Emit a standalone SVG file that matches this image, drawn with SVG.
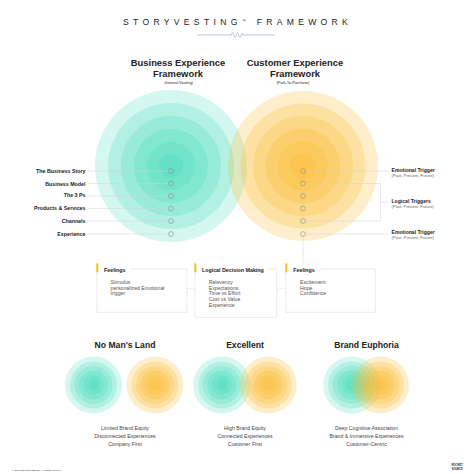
<svg xmlns="http://www.w3.org/2000/svg" width="474" height="474" viewBox="0 0 474 474">
<style>
text{font-family:"Liberation Sans",Arial,sans-serif;fill:#222}
.b{font-weight:bold}
.t{fill:#36d9b2;fill-opacity:.21}
.o{fill:#fbb626;fill-opacity:.24}
.dot{fill:none;stroke:#8a8a8a;stroke-width:.6}
.ln{fill:none;stroke:#d2d2d2;stroke-width:.5}
.box{fill:none;stroke:#dcdcdc;stroke-width:.6}
.bar{fill:#f2c417}
.lbl{font-size:5.3px;font-weight:bold;text-anchor:end}
.rl{font-size:5.1px;font-weight:bold}
.sub{font-size:4.2px;fill:#666}
.bt{font-size:5.3px;font-weight:bold}
.bi{font-size:5.2px;fill:#555}
.h2{font-size:8.6px;font-weight:bold;text-anchor:middle}
.bl{font-size:5.2px;fill:#444;text-anchor:middle}
</style>
<rect width="474" height="474" fill="#fff"/>
<g id="title">
<text x="123" y="25" font-size="8.6" letter-spacing="4.3" fill="#333">STORYVESTING<tspan font-size="4" dy="-3.5">™</tspan><tspan dy="3.5"> FRAMEWORK</tspan></text>
<path d="M197 35H231.5q1.2-5 2.4 0t2.4 0q1.2-5 2.4 0t2.4 0q1 -3 2 0H275" fill="none" stroke="#aab7ca" stroke-width=".8"/>
</g>
<g id="header-business">
<text x="178" y="66" font-size="9.4" class="b" text-anchor="middle">Business Experience</text>
<text x="178" y="76.5" font-size="9.4" class="b" text-anchor="middle">Framework</text>
<text x="178.5" y="83.5" font-size="3.8" fill="#666" text-anchor="middle">(Internal Vesting)</text>
</g>
<g id="header-customer">
<text x="295" y="66" font-size="9.4" class="b" text-anchor="middle">Customer Experience</text>
<text x="295" y="76.5" font-size="9.4" class="b" text-anchor="middle">Framework</text>
<text x="293" y="83.5" font-size="3.8" fill="#666" text-anchor="middle">(Path-To-Purchase)</text>
</g>
<g id="circle-business">
<circle class="t" cx="171" cy="166" r="76"/><circle class="t" cx="171" cy="166" r="63"/><circle class="t" cx="171" cy="166" r="50"/><circle class="t" cx="171" cy="166" r="37"/><circle class="t" cx="171" cy="166" r="24"/><circle class="t" cx="171" cy="166" r="12"/>
</g>
<g id="circle-customer">
<circle class="o" cx="303" cy="166" r="75"/><circle class="o" cx="303" cy="166" r="62.5"/><circle class="o" cx="303" cy="166" r="50"/><circle class="o" cx="303" cy="166" r="37.5"/><circle class="o" cx="303" cy="166" r="25"/><circle class="o" cx="303" cy="166" r="12.5"/>
</g>
<g id="connectors">
<path class="ln" d="M88 171H168.5M88 183.5H168.5M88 196H168.5M88 208.5H168.5M88 221H168.5M88 234H168.5"/>
<path class="ln" d="M88 169.8v2.4M88 182.3v2.4M88 194.8v2.4M88 207.3v2.4M88 219.8v2.4M88 232.8v2.4"/>
<path class="ln" d="M305.5 171H387M305.5 183.5H380.5V221H305.5M380.5 202H387M305.5 234H387"/>
<path class="ln" d="M387 169.8v2.4M387 200.8v2.4M387 232.8v2.4"/>
<path class="ln" d="M303 236.5V263"/>
<path class="ln" stroke-dasharray="1.5 1.5" d="M187 288.5H195M277 288.5H286"/>
</g>
<g id="points-business">
<circle class="dot" cx="171" cy="171" r="2.4"/><circle class="dot" cx="171" cy="183.5" r="2.4"/><circle class="dot" cx="171" cy="196" r="2.4"/><circle class="dot" cx="171" cy="208.5" r="2.4"/><circle class="dot" cx="171" cy="221" r="2.4"/><circle class="dot" cx="171" cy="234" r="2.4"/>
</g>
<g id="points-customer">
<circle class="dot" cx="303" cy="171" r="2.4"/><circle class="dot" cx="303" cy="183.5" r="2.4"/><circle class="dot" cx="303" cy="196" r="2.4"/><circle class="dot" cx="303" cy="208.5" r="2.4"/><circle class="dot" cx="303" cy="221" r="2.4"/><circle class="dot" cx="303" cy="234" r="2.4"/>
</g>
<g id="labels-business">
<text class="lbl" x="85.5" y="172.8">The Business Story</text>
<text class="lbl" x="85.5" y="185.8">Business Model</text>
<text class="lbl" x="85.5" y="197.3">The 3 Ps</text>
<text class="lbl" x="85.5" y="209.8">Products &amp; Services</text>
<text class="lbl" x="85.5" y="223">Channels</text>
<text class="lbl" x="85.5" y="236">Experience</text>
</g>
<g id="labels-customer">
<text class="rl" x="391.5" y="171.8">Emotional Trigger</text>
<text class="sub" x="391.5" y="177.3">(Past, Present, Future)</text>
<text class="rl" x="391.5" y="202.8">Logical Triggers</text>
<text class="sub" x="391.5" y="208.3">(Past, Present, Future)</text>
<text class="rl" x="391.5" y="233.5">Emotional Trigger</text>
<text class="sub" x="391.5" y="239.3">(Past, Present, Future)</text>
</g>
<g id="box-feelings-1">
<path class="box" d="M130 269H187V312.3H97V272"/>
<rect class="bar" x="96.3" y="263.3" width="2" height="9"/>
<text class="bt" x="104" y="271.8">Feelings</text>
<text class="bi" x="110.5" y="283.8">Stimulus</text>
<text class="bi" x="110.5" y="289.5">personalized Emotional</text>
<text class="bi" x="110.5" y="295.2">trigger</text>
</g>
<g id="box-logical">
<path class="box" d="M268.3 269H276.7V317.3H195V272"/>
<rect class="bar" x="194.3" y="263.3" width="2" height="9"/>
<text class="bt" x="202" y="271.8">Logical Decision Making</text>
<text class="bi" x="208.7" y="283.8">Relevency</text>
<text class="bi" x="208.7" y="289.5">Expectations</text>
<text class="bi" x="208.7" y="295.2">Time vs Effort</text>
<text class="bi" x="208.7" y="300.9">Cost vs Value</text>
<text class="bi" x="208.7" y="306.6">Experience</text>
</g>
<g id="box-feelings-2">
<path class="box" d="M320 269H375.3V312.3H286V272"/>
<rect class="bar" x="285.3" y="263.3" width="2" height="9"/>
<text class="bt" x="293.3" y="271.8">Feelings</text>
<text class="bi" x="300" y="283.8">Excitement</text>
<text class="bi" x="300" y="289.5">Hope</text>
<text class="bi" x="300" y="295.2">Confidence</text>
</g>
<g id="no-mans-land">
<text class="h2" x="125" y="347.5">No Man's Land</text>
<circle class="t" cx="93.5" cy="385" r="28.5"/><circle class="t" cx="93.5" cy="385" r="23.5"/><circle class="t" cx="93.5" cy="385" r="19"/><circle class="t" cx="93.5" cy="385" r="14.5"/><circle class="t" cx="93.5" cy="385" r="10"/><circle class="t" cx="93.5" cy="385" r="5.5"/>
<circle class="o" cx="155" cy="385" r="28.5"/><circle class="o" cx="155" cy="385" r="23.5"/><circle class="o" cx="155" cy="385" r="19"/><circle class="o" cx="155" cy="385" r="14.5"/><circle class="o" cx="155" cy="385" r="10"/><circle class="o" cx="155" cy="385" r="5.5"/>
<text class="bl" x="125" y="430">Limited Brand Equity</text>
<text class="bl" x="125" y="437.8">Disconnected Experiences</text>
<text class="bl" x="125" y="445.6">Company First</text>
</g>
<g id="excellent">
<text class="h2" x="245" y="347.5">Excellent</text>
<circle class="t" cx="221.7" cy="385" r="28.5"/><circle class="t" cx="221.7" cy="385" r="23.5"/><circle class="t" cx="221.7" cy="385" r="19"/><circle class="t" cx="221.7" cy="385" r="14.5"/><circle class="t" cx="221.7" cy="385" r="10"/><circle class="t" cx="221.7" cy="385" r="5.5"/>
<circle class="o" cx="268.3" cy="385" r="28.5"/><circle class="o" cx="268.3" cy="385" r="23.5"/><circle class="o" cx="268.3" cy="385" r="19"/><circle class="o" cx="268.3" cy="385" r="14.5"/><circle class="o" cx="268.3" cy="385" r="10"/><circle class="o" cx="268.3" cy="385" r="5.5"/>
<text class="bl" x="245" y="430">High Brand Equity</text>
<text class="bl" x="245" y="437.8">Connected Experiences</text>
<text class="bl" x="245" y="445.6">Customer First</text>
</g>
<g id="brand-euphoria">
<text class="h2" x="366.5" y="347.5">Brand Euphoria</text>
<circle class="t" cx="351.7" cy="385" r="28.5"/><circle class="t" cx="351.7" cy="385" r="23.5"/><circle class="t" cx="351.7" cy="385" r="19"/><circle class="t" cx="351.7" cy="385" r="14.5"/><circle class="t" cx="351.7" cy="385" r="10"/><circle class="t" cx="351.7" cy="385" r="5.5"/>
<circle class="o" cx="380.5" cy="385" r="28.5"/><circle class="o" cx="380.5" cy="385" r="23.5"/><circle class="o" cx="380.5" cy="385" r="19"/><circle class="o" cx="380.5" cy="385" r="14.5"/><circle class="o" cx="380.5" cy="385" r="10"/><circle class="o" cx="380.5" cy="385" r="5.5"/>
<text class="bl" x="366.5" y="430">Deep Cognitive Association</text>
<text class="bl" x="366.5" y="437.8">Brand &amp; Immersive Experiences</text>
<text class="bl" x="366.5" y="445.6">Customer-Centric</text>
</g>
<g id="footer">
<text x="11.7" y="470.5" font-size="2.2" fill="#888" textLength="50" lengthAdjust="spacingAndGlyphs">© Copyright RocketSource. All rights reserved.</text>
<text x="451.7" y="466" font-size="3.2" font-weight="bold" fill="#444" textLength="11" lengthAdjust="spacingAndGlyphs">ROCKET</text>
<text x="451.7" y="470" font-size="3.2" font-weight="bold" fill="#444" textLength="11" lengthAdjust="spacingAndGlyphs">SOURCE</text>
</g>
</svg>
